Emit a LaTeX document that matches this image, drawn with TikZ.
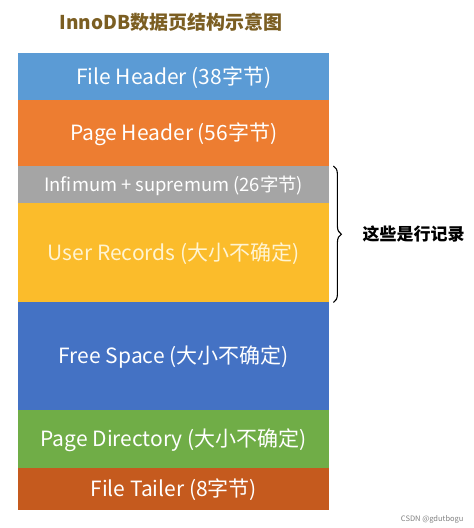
\documentclass[tikz,border=0pt]{standalone}
\usepackage{fontspec}
\setmainfont{Noto Sans CJK SC}
\usetikzlibrary{decorations.pathreplacing}

\definecolor{fhblue}{HTML}{5B9BD5}
\definecolor{phorange}{HTML}{ED7D31}
\definecolor{infgray}{HTML}{A5A5A5}
\definecolor{uryellow}{HTML}{FBBC2B}
\definecolor{fsblue}{HTML}{4472C4}
\definecolor{pdgreen}{HTML}{70AD47}
\definecolor{ftbrown}{HTML}{C55A1E}
\definecolor{titlegold}{HTML}{7B5E22}
\definecolor{cream}{HTML}{FFF4D2}

\begin{document}
\begin{tikzpicture}[x=1pt, y=-1pt]
\useasboundingbox (0,0) rectangle (474,528);

% Title above the page
\node [text=titlegold, font=\bfseries\fontsize{19}{22}\selectfont] (title) at (171,22) {InnoDB数据页结构示意图};

% The parts of the page, from top to bottom
\foreach \name/\top/\hgt/\col/\fg/\sz/\lab in {
  fh/53/47/fhblue/white/21/{File Header (38字节)},
  ph/100/66/phorange/white/21/{Page Header (56字节)},
  inf/166/37/infgray/white/18.4/{Infimum + supremum (26字节)},
  user/203/99/uryellow/cream/21/{User Records (大小不确定)},
  free/302/108/fsblue/white/21/{Free Space (大小不确定)},
  dir/410/58/pdgreen/white/21/{Page Directory (大小不确定)},
  tail/468/42/ftbrown/white/21/{File Tailer (8字节)}} {
  \node [fill=\col, text=\fg, anchor=north west, inner sep=0pt,
         minimum width=311pt, minimum height=\hgt pt,
         font=\fontsize{\sz}{24}\selectfont,
         text height=0.74*\sz pt, text depth=0.04*\sz pt] (\name) at (18,\top) {\lab};
}

% Brace around the row records
\draw [line width=1.1pt, decorate, decoration={brace, amplitude=8pt}]
  ([xshift=4pt]inf.north east) -- ([xshift=4pt]user.south east)
  coordinate [midway, xshift=12pt] (tip);
\node [anchor=west, inner sep=0pt, font=\bfseries\fontsize{17}{20}\selectfont] (rows) at ([xshift=17pt]tip) {这些是行记录};

% Watermark
\node [text=gray, font=\fontsize{7.5}{8}\selectfont, anchor=east] (mark) at (467,519) {CSDN @gdutbogu};
\end{tikzpicture}
\end{document}
